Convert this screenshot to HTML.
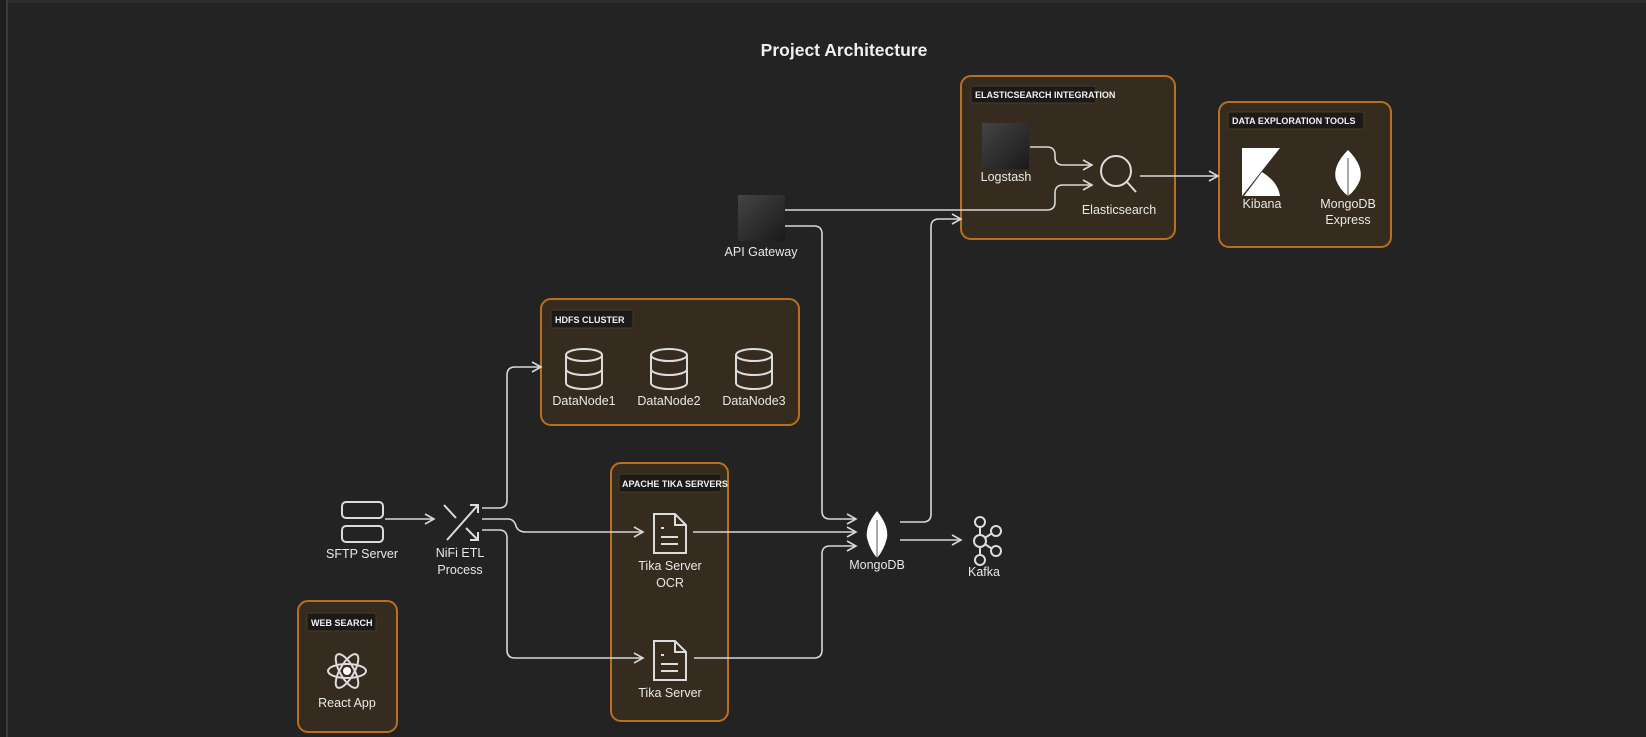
<!DOCTYPE html>
<html><head><meta charset="utf-8"><style>
html,body{margin:0;padding:0;background:#232323;}
svg{display:block;}
text{font-family:"Liberation Sans",sans-serif;fill:#e8e8e8;}
.l{font-size:12.5px;text-anchor:middle;}
.t{font-size:9px;font-weight:bold;fill:#f2f2f2;}
.box{fill:#352c1f;stroke:#b86f1f;stroke-width:2;}
.tag{fill:#1b1a18;stroke:#4a3a22;stroke-width:1;}
.c{fill:none;stroke:#d8d8d8;stroke-width:1.6;}
.i{fill:none;stroke:#dcdcdc;stroke-width:2;}
</style></head><body>
<svg width="1646" height="737" viewBox="0 0 1646 737">
<defs>
<marker id="a" markerWidth="12" markerHeight="12" refX="10" refY="6" orient="auto" markerUnits="userSpaceOnUse">
<path d="M1,1 L10,6 L1,11" fill="none" stroke="#d8d8d8" stroke-width="1.6"/></marker>
<linearGradient id="g" x1="0" y1="0" x2="1" y2="1"><stop offset="0" stop-color="#444"/><stop offset="1" stop-color="#1a1a1a"/></linearGradient>
</defs>
<rect x="0" y="0" width="1646" height="737" fill="#232323"/>
<rect x="0" y="0" width="6" height="737" fill="#1d1d1d"/>
<rect x="6" y="0" width="2" height="737" fill="#3a3a3a"/>
<rect x="8" y="0" width="1638" height="3" fill="#2b2e2e"/>
<text x="844" y="56" style="font-size:17.5px;font-weight:bold;text-anchor:middle;fill:#f0f0f0">Project Architecture</text>

<rect class="box" x="961" y="76" width="214" height="163" rx="10"/>
<rect class="tag" x="971" y="86" width="125" height="17" rx="2"/>
<text class="t" x="975" y="98">ELASTICSEARCH INTEGRATION</text>

<rect class="box" x="1219" y="102" width="172" height="145" rx="10"/>
<rect class="tag" x="1228" y="112" width="136" height="17" rx="2"/>
<text class="t" x="1232" y="124">DATA EXPLORATION TOOLS</text>

<rect class="box" x="541" y="299" width="258" height="126" rx="10"/>
<rect class="tag" x="551" y="310" width="82" height="18" rx="2"/>
<text class="t" x="555" y="323">HDFS CLUSTER</text>

<rect class="box" x="611" y="463" width="117" height="258" rx="10"/>
<rect class="tag" x="619" y="474" width="102" height="18" rx="2"/>
<text class="t" x="622" y="487">APACHE TIKA SERVERS</text>

<rect class="box" x="298" y="601" width="99" height="131" rx="10"/>
<rect class="tag" x="307" y="613" width="69" height="18" rx="2"/>
<text class="t" x="311" y="626">WEB SEARCH</text>

<path class="c" marker-end="url(#a)" d="M385,519 L434,519"/>
<path class="c" marker-end="url(#a)" d="M482,508 L499,508 Q507,508 507,500 L507,375 Q507,367 515,367 L541,367"/>
<path class="c" marker-end="url(#a)" d="M482,519 L508,519 Q514,519 516,526 Q518,532 526,532 L643,532"/>
<path class="c" marker-end="url(#a)" d="M482,530 L499,530 Q507,530 507,538 L507,650 Q507,658 515,658 L643,658"/>
<path class="c" marker-end="url(#a)" d="M693,532 L856,532"/>
<path class="c" marker-end="url(#a)" d="M694,658 L814,658 Q822,658 822,650 L822,554 Q822,546 830,546 L856,546"/>
<path class="c" marker-end="url(#a)" d="M784,226 L814,226 Q822,226 822,234 L822,511 Q822,519 830,519 L856,519"/>
<path class="c" marker-end="url(#a)" d="M784,210 L1047,210 Q1055,210 1055,202 L1055,193 Q1055,185 1063,185 L1092,185"/>
<path class="c" marker-end="url(#a)" d="M1030,147 L1047,147 Q1055,147 1055,155 L1055,157 Q1055,165 1063,165 L1092,165"/>
<path class="c" marker-end="url(#a)" d="M900,522 L923,522 Q931,522 931,514 L931,227 Q931,219 939,219 L961,219"/>
<path class="c" marker-end="url(#a)" d="M900,540 L961,540"/>
<path class="c" marker-end="url(#a)" d="M1140,176 L1218,176"/>

<rect x="982" y="123" width="47" height="46" fill="url(#g)"/>
<text class="l" x="1006" y="181">Logstash</text>
<circle class="i" cx="1116" cy="171" r="15"/><path class="i" d="M1127,182 L1136,192"/>
<text class="l" x="1119" y="214">Elasticsearch</text>

<rect x="738" y="195" width="47" height="46" fill="url(#g)"/>
<text class="l" x="761" y="256">API Gateway</text>

<path d="M1242,148 L1280,148 L1242,196 Z" fill="#fff"/>
<path d="M1244,196 L1262,172 Q1278,182 1280,196 Z" fill="#fff"/>
<text class="l" x="1262" y="208">Kibana</text>
<path d="M1348,150 Q1332,166 1336,180 Q1340,190 1348,196 Q1356,190 1360,180 Q1364,166 1348,150 Z" fill="#fff"/>
<path d="M1348,158 L1348,196" stroke="#555" stroke-width="1"/>
<text class="l" x="1348" y="208">MongoDB</text>
<text class="l" x="1348" y="224">Express</text>

<g class="i">
<g transform="translate(584,0)"><ellipse cx="0" cy="355" rx="18" ry="6"/><path d="M-18,355 L-18,383 A18,6 0 0 0 18,383 L18,355 M-18,369 A18,6 0 0 0 18,369"/></g>
<g transform="translate(669,0)"><ellipse cx="0" cy="355" rx="18" ry="6"/><path d="M-18,355 L-18,383 A18,6 0 0 0 18,383 L18,355 M-18,369 A18,6 0 0 0 18,369"/></g>
<g transform="translate(754,0)"><ellipse cx="0" cy="355" rx="18" ry="6"/><path d="M-18,355 L-18,383 A18,6 0 0 0 18,383 L18,355 M-18,369 A18,6 0 0 0 18,369"/></g>
</g>
<text class="l" x="584" y="405">DataNode1</text>
<text class="l" x="669" y="405">DataNode2</text>
<text class="l" x="754" y="405">DataNode3</text>

<rect class="i" x="342" y="502" width="41" height="16" rx="4"/>
<rect class="i" x="342" y="526" width="41" height="16" rx="4"/>
<text class="l" x="362" y="558">SFTP Server</text>

<path class="i" d="M444,505 L456,518 M447,540 L478,505 M470,505 L478,505 L478,513 M466,528 L478,540 M470,540 L478,540 L478,532"/>
<text class="l" x="460" y="557">NiFi ETL</text>
<text class="l" x="460" y="574">Process</text>

<g class="i">
<path d="M654,514 L675,514 L686,525 L686,553 L654,553 Z M675,514 L675,525 L686,525"/><path d="M661,528 L664,528 M661,537 L678,537 M661,544 L678,544"/>
</g>
<text class="l" x="670" y="570">Tika Server</text>
<text class="l" x="670" y="587">OCR</text>
<g class="i">
<path d="M654,641 L675,641 L686,652 L686,680 L654,680 Z M675,641 L675,652 L686,652"/><path d="M661,655 L664,655 M661,664 L678,664 M661,671 L678,671"/>
</g>
<text class="l" x="670" y="697">Tika Server</text>

<path d="M877,511 Q865,526 867,538 Q870,550 877,558 Q884,550 887,538 Q889,526 877,511 Z" fill="#fff"/>
<path d="M877,520 L877,558" stroke="#555" stroke-width="1"/>
<text class="l" x="877" y="569">MongoDB</text>

<g class="i" stroke-width="3">
<path d="M980,525 L980,557 M980,541 L994,532 M980,541 L994,550"/>
<circle cx="980" cy="522" r="5" fill="#232323"/><circle cx="980" cy="541" r="6" fill="#232323"/><circle cx="980" cy="560" r="5" fill="#232323"/>
<circle cx="996" cy="531" r="5" fill="#232323"/><circle cx="996" cy="551" r="5" fill="#232323"/>
</g>
<text class="l" x="984" y="576">Kafka</text>

<g class="i">
<ellipse cx="347" cy="671" rx="19" ry="7"/>
<ellipse cx="347" cy="671" rx="19" ry="7" transform="rotate(60 347 671)"/>
<ellipse cx="347" cy="671" rx="19" ry="7" transform="rotate(-60 347 671)"/>
</g>
<circle cx="347" cy="671" r="4" fill="#fff"/>
<text class="l" x="347" y="707">React App</text>
</svg>
</body></html>
